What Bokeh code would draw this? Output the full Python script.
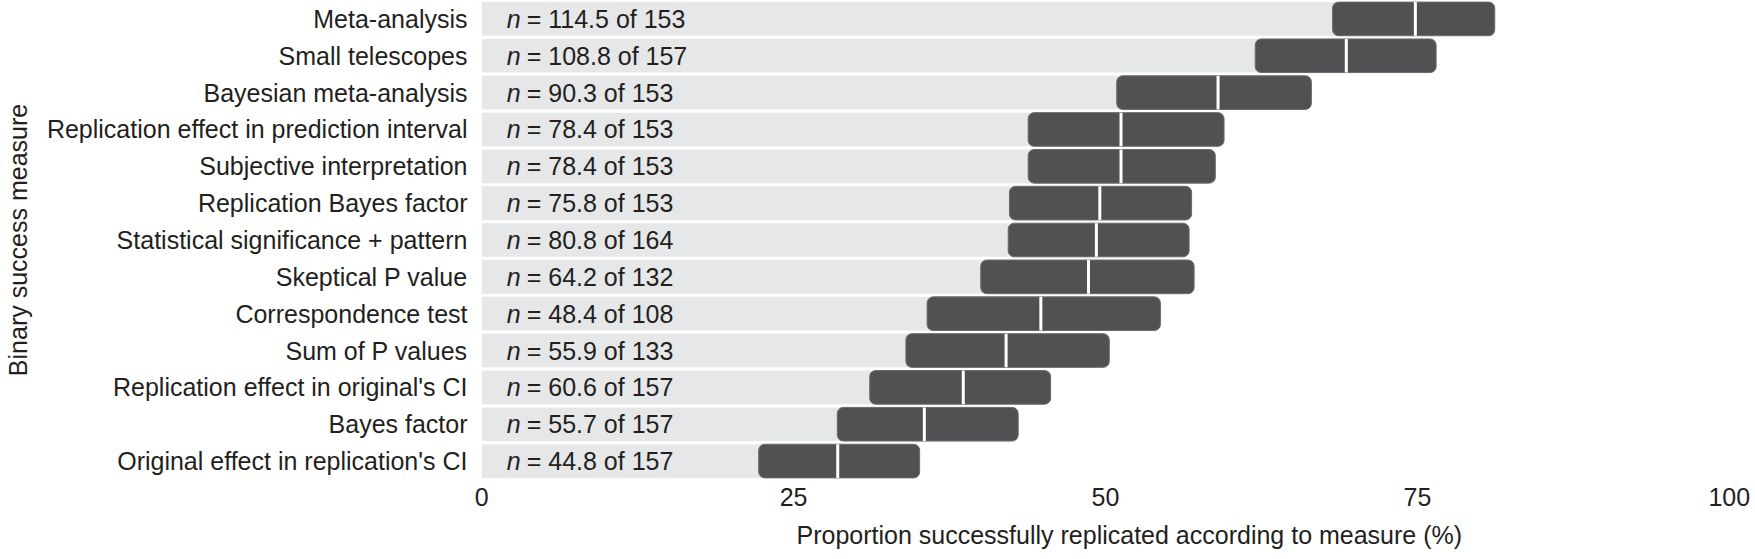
from bokeh.plotting import figure
from bokeh.models import FactorRange, Range1d, ColumnDataSource, FixedTicker, Title
from bokeh.embed import file_html
from bokeh.resources import INLINE
from bokeh.core.properties import value

measures = [
    "Meta-analysis",
    "Small telescopes",
    "Bayesian meta-analysis",
    "Replication effect in prediction interval",
    "Subjective interpretation",
    "Replication Bayes factor",
    "Statistical significance + pattern",
    "Skeptical P value",
    "Correspondence test",
    "Sum of P values",
    "Replication effect in original's CI",
    "Bayes factor",
    "Original effect in replication's CI",
]
n_success = [114.5, 108.8, 90.3, 78.4, 78.4, 75.8, 80.8, 64.2, 48.4, 55.9, 60.6, 55.7, 44.8]
n_total = [153, 157, 153, 153, 153, 153, 164, 132, 108, 133, 157, 157, 157]
ci_low = [68.2, 62.0, 50.9, 43.8, 43.8, 42.3, 42.2, 40.0, 35.7, 34.0, 31.1, 28.5, 22.2]
ci_high = [81.2, 76.5, 66.5, 59.5, 58.8, 56.9, 56.7, 57.1, 54.4, 50.3, 45.6, 43.0, 35.1]
x_ticks = [0, 25, 50, 75, 100]
x_title = "Proportion successfully replicated according to measure (%)"
y_title = "Binary success measure"

FONT = "Liberation Sans"
TXT = "#231f20"
FS = "25px"

est = [100.0 * s / t for s, t in zip(n_success, n_total)]
rest = ["= %.1f of %d" % (s, t) for s, t in zip(n_success, n_total)]

src = ColumnDataSource(dict(
    measure=measures, lo=ci_low, hi=ci_high, est=est,
    zero=[0.0] * len(measures), lab_x=[2.0] * len(measures),
    n=["n"] * len(measures), rest=rest,
))

p = figure(
    width=1755, height=559,
    y_range=FactorRange(factors=list(reversed(measures))),
    x_range=Range1d(-0.1, 102.1),
    output_backend="svg", toolbar_location=None,
    min_border_left=476, min_border_right=0, min_border_top=0, min_border_bottom=75,
)
p.outline_line_color = None
p.background_fill_color = "white"
p.border_fill_color = "white"
p.xgrid.grid_line_color = None
p.ygrid.grid_line_color = None

H = 0.913
p.hbar(y="measure", left="zero", right="est", height=H, source=src,
       fill_color="#e6e7e8", line_color=None)
p.hbar(y="measure", left="lo", right="hi", height=H, source=src,
       fill_color="#515153", line_color="#6a6a6c", line_width=1, border_radius=6)
p.rect(x="est", y="measure", width=3, width_units="screen", height=H, source=src,
       fill_color="white", line_color=None)

p.text(x="lab_x", y="measure", text="n", source=src, text_font=value(FONT),
       text_font_style="italic", text_font_size=FS, text_color=TXT,
       text_baseline="middle", text_align="left")
p.text(x="lab_x", y="measure", text="rest", source=src, text_font=value(FONT),
       text_font_size=FS, text_color=TXT, x_offset=20,
       text_baseline="middle", text_align="left")

xa = p.xaxis[0]
xa.ticker = FixedTicker(ticks=x_ticks)
xa.axis_line_color = None
xa.major_tick_line_color = None
xa.minor_tick_line_color = None
xa.major_tick_in = 0
xa.major_tick_out = 0
xa.major_label_standoff = 8
xa.major_label_text_font = FONT
xa.major_label_text_font_size = FS
xa.major_label_text_color = TXT

ya = p.yaxis[0]
ya.axis_line_color = None
ya.major_tick_line_color = None
ya.minor_tick_line_color = None
ya.major_tick_in = 0
ya.major_tick_out = 0
ya.major_label_standoff = 13
ya.major_label_text_font = FONT
ya.major_label_text_font_size = FS
ya.major_label_text_color = TXT
ya.axis_label = y_title
ya.axis_label_text_font = FONT
ya.axis_label_text_font_size = FS
ya.axis_label_text_font_style = "normal"
ya.axis_label_text_color = TXT
ya.axis_label_standoff = 12

p.add_layout(Title(text=x_title, align="left", offset=316, standoff=21,
                   text_font=FONT, text_font_size=FS, text_font_style="normal",
                   text_color=TXT), "below")

open("out.html", "w").write(file_html(p, INLINE))
